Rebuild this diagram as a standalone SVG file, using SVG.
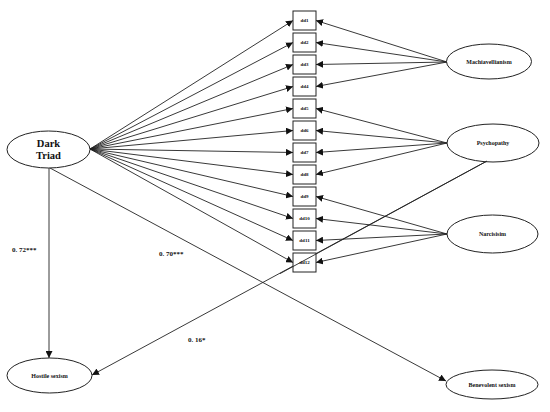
<svg xmlns="http://www.w3.org/2000/svg" width="550" height="412" viewBox="0 0 550 412">
<defs>
<marker id="ah" viewBox="0 0 10 10" refX="10" refY="5" markerWidth="7" markerHeight="7" markerUnits="userSpaceOnUse" orient="auto">
<path d="M0,0 L10,5 L0,10 z" fill="#111"/>
</marker>
<style>
.n{fill:#fff;stroke:#222;stroke-width:1}
.c line{stroke:#222;stroke-width:0.9;marker-end:url(#ah)}
text{font-family:'Liberation Serif','DejaVu Serif',serif;font-weight:bold;fill:#111}
.t{text-anchor:middle}
.s{font-size:5px}
.m{font-size:6px}
.l{font-size:7px}
</style>
</defs>
<rect width="550" height="412" fill="#fff"/>
<g class="c" id="connectors">
<line x1="90" y1="149" x2="293" y2="20.5"/>
<line x1="90" y1="149" x2="293" y2="42.5"/>
<line x1="90" y1="149" x2="293" y2="64.5"/>
<line x1="90" y1="149" x2="293" y2="86.5"/>
<line x1="90" y1="149" x2="293" y2="108.5"/>
<line x1="90" y1="149" x2="293" y2="130.5"/>
<line x1="90" y1="149" x2="293" y2="152.5"/>
<line x1="90" y1="149" x2="293" y2="174.5"/>
<line x1="90" y1="149" x2="293" y2="196.5"/>
<line x1="90" y1="149" x2="293" y2="218.5"/>
<line x1="90" y1="149" x2="293" y2="240.5"/>
<line x1="90" y1="149" x2="293" y2="262.5"/>
<line x1="447" y1="62" x2="316" y2="20.5"/>
<line x1="447" y1="62" x2="316" y2="42.5"/>
<line x1="447" y1="62" x2="316" y2="64.5"/>
<line x1="447" y1="62" x2="316" y2="86.5"/>
<line x1="447" y1="143" x2="316" y2="108.5"/>
<line x1="447" y1="143" x2="316" y2="130.5"/>
<line x1="447" y1="143" x2="316" y2="152.5"/>
<line x1="447" y1="143" x2="316" y2="174.5"/>
<line x1="447" y1="234" x2="316" y2="196.5"/>
<line x1="447" y1="234" x2="316" y2="218.5"/>
<line x1="447" y1="234" x2="316" y2="240.5"/>
<line x1="447" y1="234" x2="316" y2="262.5"/>
<line x1="49" y1="168" x2="49" y2="358"/>
<line x1="50" y1="168" x2="446" y2="381"/>
<line x1="487" y1="161" x2="92" y2="375"/>
</g>
<g id="dark-triad"><ellipse class="n" cx="48.5" cy="149.5" rx="41.5" ry="18.5"/><text class="t" x="48.5" y="147" font-size="10.5">Dark</text><text class="t" x="48.5" y="158.5" font-size="10.5">Triad</text></g>
<g id="machiavellianism"><ellipse class="n" cx="489" cy="61.5" rx="42.5" ry="17.5"/><text class="t m" x="489" y="63.5">Machiavellianism</text></g>
<g id="psychopathy"><ellipse class="n" cx="493" cy="143" rx="46" ry="19"/><text class="t m" x="493" y="145">Psychopathy</text></g>
<g id="narcissism"><ellipse class="n" cx="492.5" cy="234" rx="45.5" ry="19"/><text class="t m" x="492.5" y="236">Narcisisim</text></g>
<g id="hostile"><ellipse class="n" cx="49.5" cy="375.5" rx="42.5" ry="17.5"/><text class="t m" x="49.5" y="377.5">Hostile sexism</text></g>
<g id="benevolent"><ellipse class="n" cx="492" cy="384.5" rx="46" ry="14.5"/><text class="t m" x="492" y="386.5">Benevolent sexism</text></g>
<g id="dd1"><rect class="n" x="293" y="11" width="23" height="19"/><text class="t s" x="304.5" y="22">dd1</text></g>
<g id="dd2"><rect class="n" x="293" y="33" width="23" height="19"/><text class="t s" x="304.5" y="44">dd2</text></g>
<g id="dd3"><rect class="n" x="293" y="55" width="23" height="19"/><text class="t s" x="304.5" y="66">dd3</text></g>
<g id="dd4"><rect class="n" x="293" y="77" width="23" height="19"/><text class="t s" x="304.5" y="88">dd4</text></g>
<g id="dd5"><rect class="n" x="293" y="99" width="23" height="19"/><text class="t s" x="304.5" y="110">dd5</text></g>
<g id="dd6"><rect class="n" x="293" y="121" width="23" height="19"/><text class="t s" x="304.5" y="132">dd6</text></g>
<g id="dd7"><rect class="n" x="293" y="143" width="23" height="19"/><text class="t s" x="304.5" y="154">dd7</text></g>
<g id="dd8"><rect class="n" x="293" y="165" width="23" height="19"/><text class="t s" x="304.5" y="176">dd8</text></g>
<g id="dd9"><rect class="n" x="293" y="187" width="23" height="19"/><text class="t s" x="304.5" y="198">dd9</text></g>
<g id="dd10"><rect class="n" x="293" y="209" width="23" height="19"/><text class="t s" x="304.5" y="220">dd10</text></g>
<g id="dd11"><rect class="n" x="293" y="231" width="23" height="19"/><text class="t s" x="304.5" y="242">dd11</text></g>
<g id="dd12"><rect class="n" x="293" y="253" width="23" height="19"/><text class="t s" x="304.5" y="264">dd12</text></g>
<line x1="487" y1="161" x2="280" y2="273.6" stroke="#222" stroke-width="0.9"/>
<text class="l" x="12" y="251.5">0. 72***</text>
<text class="l" x="159" y="255.5">0. 70***</text>
<text class="l" x="188" y="341.5">0. 16*</text>
</svg>
